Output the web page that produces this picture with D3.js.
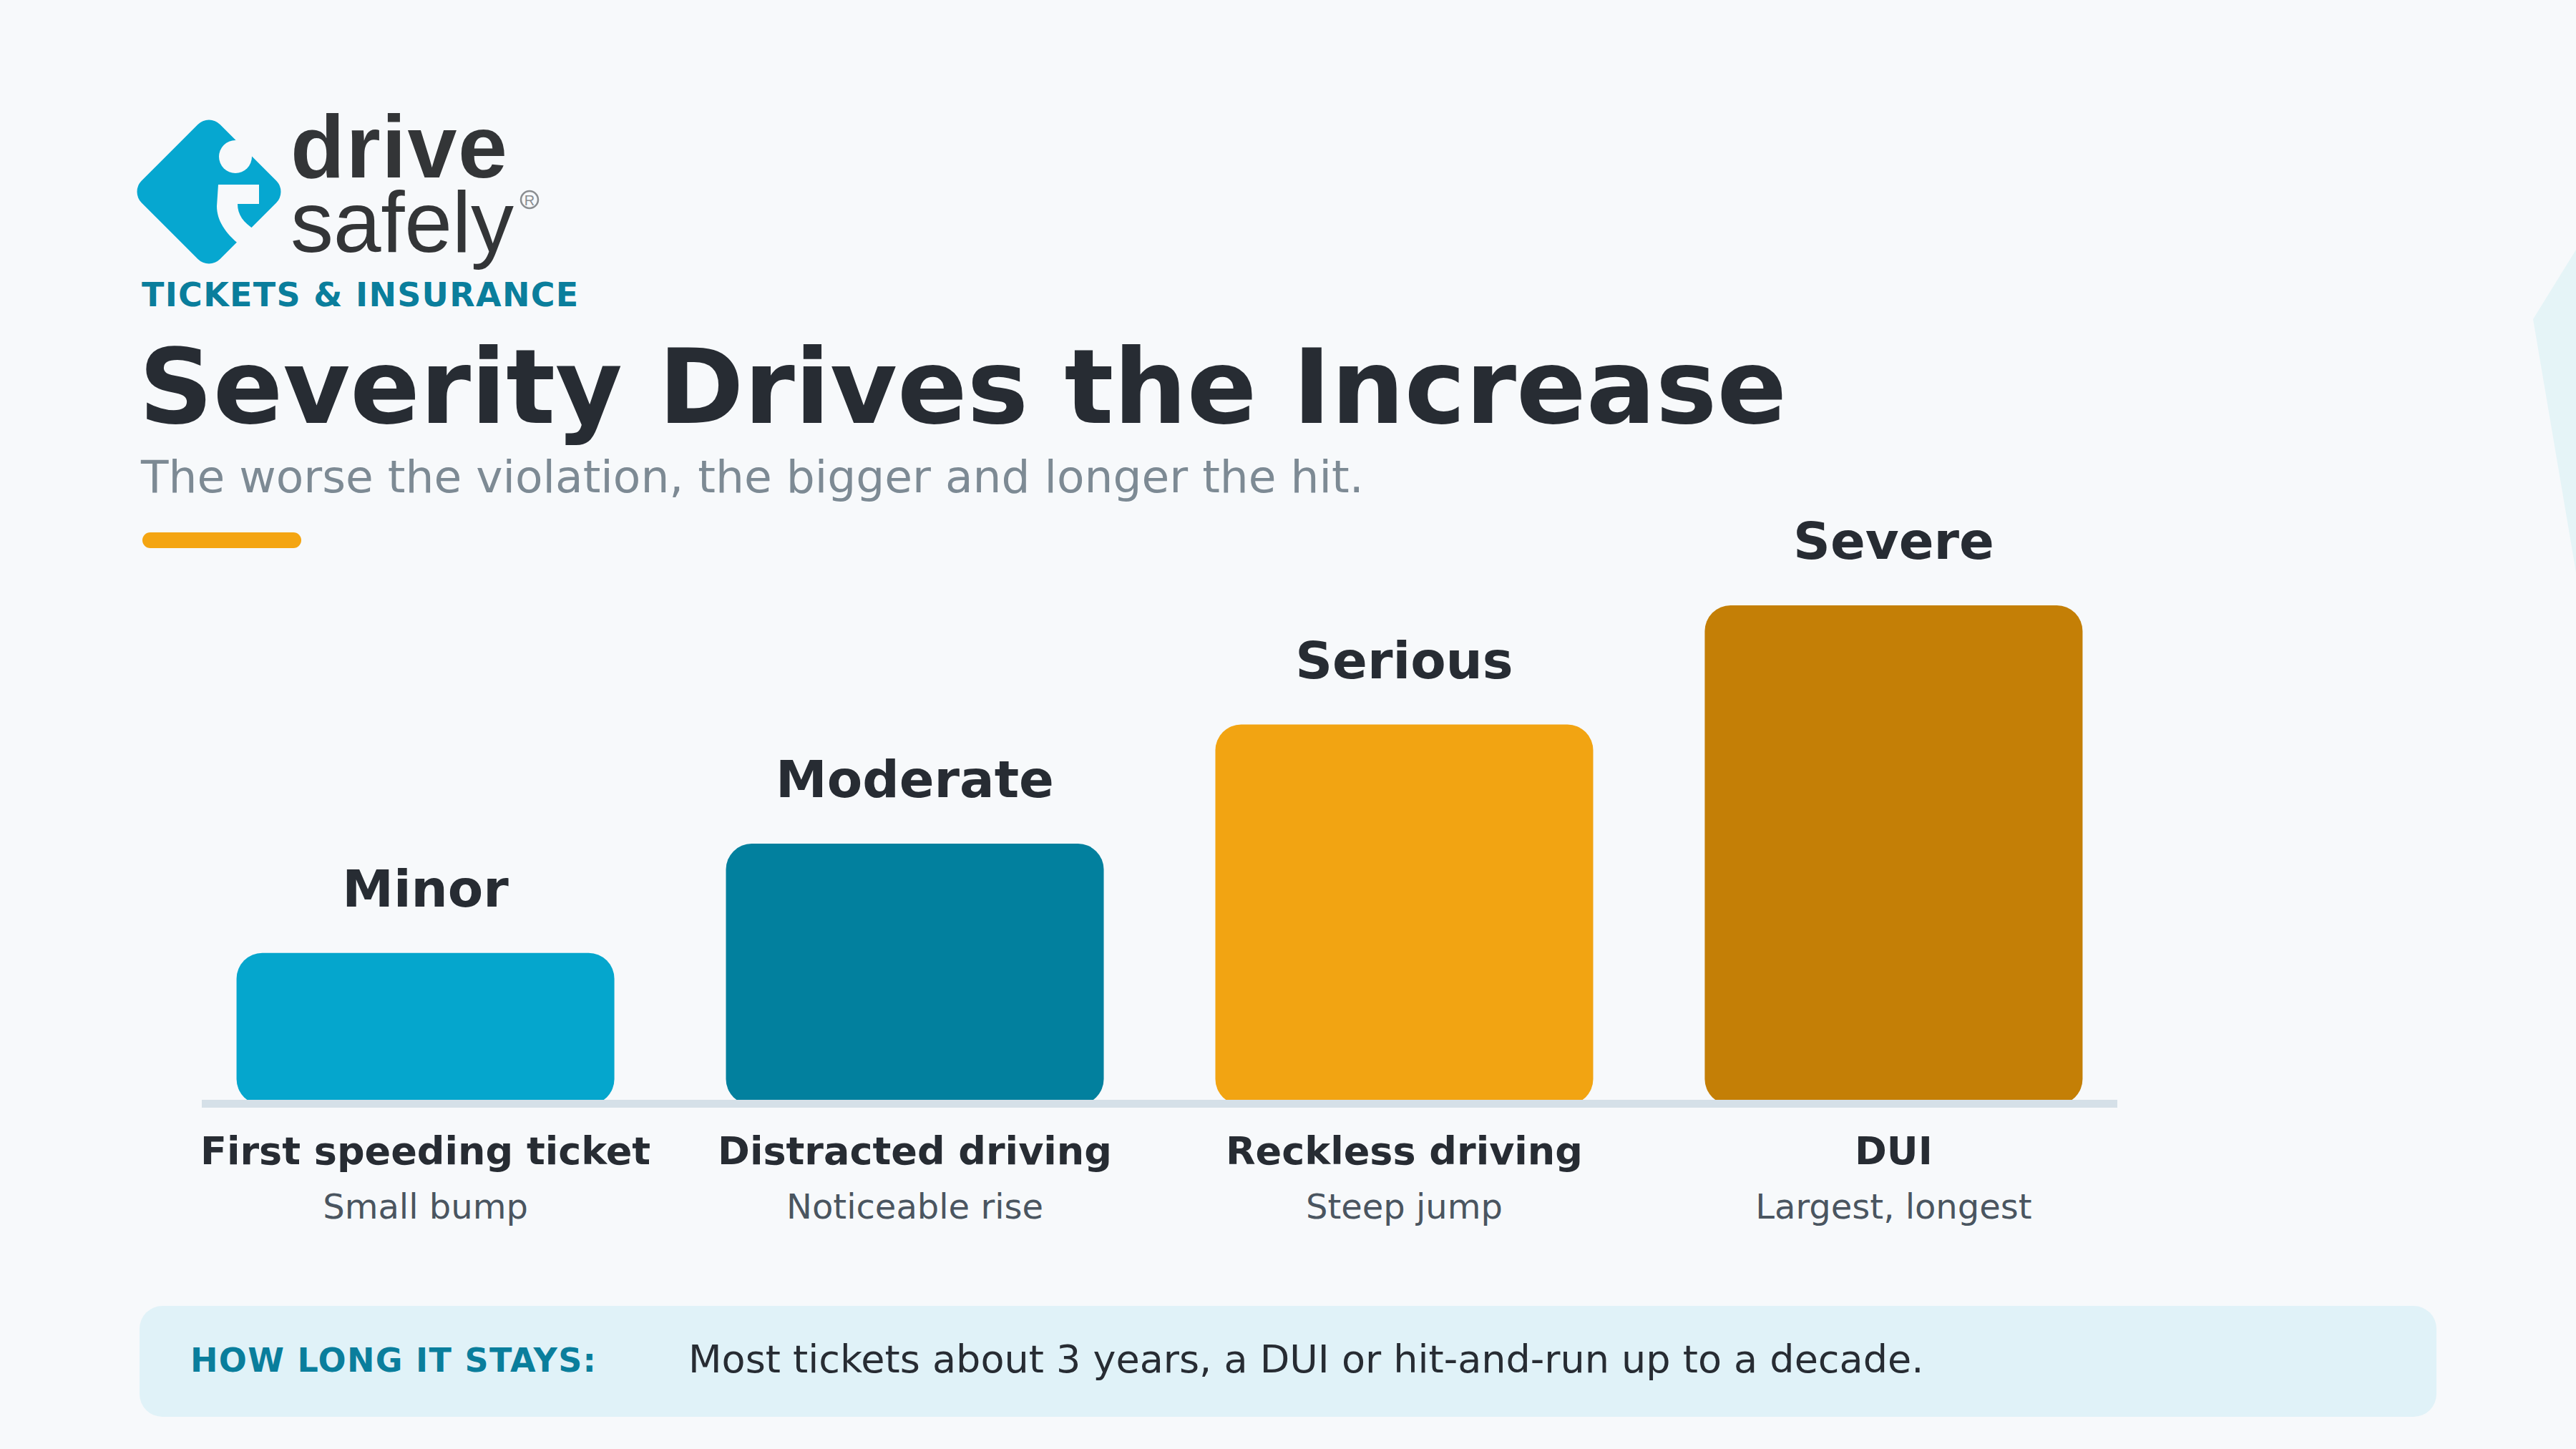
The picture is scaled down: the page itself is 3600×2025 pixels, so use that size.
<!DOCTYPE html>
<html>
<head>
<meta charset="utf-8">
<script src="https://cdn.jsdelivr.net/npm/d3@7"></script>
<style>
  html, body { margin: 0; padding: 0; background: #F7F9FB; }
  svg { display: block; }
</style>
</head>
<body>
<div id="chart"></div>
<script>
// chart data
const severity = ["Minor", "Moderate", "Serious", "Severe"];
const violations = ["First speeding ticket", "Distracted driving", "Reckless driving", "DUI"];
const notes = ["Small bump", "Noticeable rise", "Steep jump", "Largest, longest"];
const impact = [30, 52, 76, 100]; // relative size of the premium hit
const barColors = ["#05A6CD", "#02809E", "#F2A412", "#C47F06"];

const W = 3600, H = 2025;
const bg = "#F7F9FB";
const font = "'DejaVu Sans', sans-serif";

const svg = d3.select("#chart")
  .append("svg")
  .attr("width", W)
  .attr("height", H);

svg.append("rect").attr("width", W).attr("height", H).attr("fill", bg);

// faint shape at right edge
svg.append("polygon")
  .attr("points", "3540,446 3600,349 3600,800")
  .attr("fill", "#E5F4F7");

// logo
const logo = svg.append("g");
logo.append("rect")
  .attr("x", 292 - 77.5).attr("y", 268 - 77.5)
  .attr("width", 155).attr("height", 155)
  .attr("rx", 22)
  .attr("transform", "rotate(45,292,268)")
  .attr("fill", "#06A7D0");
logo.append("circle").attr("cx", 329).attr("cy", 219).attr("r", 23).attr("fill", bg);
logo.append("path")
  .attr("d", "M305,258 H362 V285 H332 C332,300 340,311 356,321 L385,330 L345,352 L335,342 C315,326 303,308 303,288 Z")
  .attr("fill", bg);

logo.append("text")
  .attr("x", 406).attr("y", 248)
  .attr("font-family", "'Liberation Sans', Arial, sans-serif")
  .attr("font-weight", "bold")
  .attr("font-size", 124)
  .attr("fill", "#333537")
  .attr("textLength", 303)
  .text("drive");
logo.append("text")
  .attr("x", 406).attr("y", 352)
  .attr("font-family", "'Liberation Sans', Arial, sans-serif")
  .attr("font-size", 120)
  .attr("fill", "#333537")
  .attr("textLength", 312)
  .text("safely");
logo.append("circle").attr("cx", 740).attr("cy", 279).attr("r", 12)
  .attr("fill", "none").attr("stroke", "#8A8D90").attr("stroke-width", 2.5);
logo.append("text")
  .attr("x", 740).attr("y", 287)
  .attr("text-anchor", "middle")
  .attr("font-family", "'Liberation Sans', Arial, sans-serif")
  .attr("font-size", 20)
  .attr("fill", "#8A8D90")
  .text("R");

svg.append("text")
  .attr("x", 198).attr("y", 428)
  .attr("font-family", font)
  .attr("font-weight", "bold")
  .attr("font-size", 46)
  .attr("letter-spacing", 1.3)
  .attr("fill", "#0A7E9C")
  .text("TICKETS & INSURANCE");

// title block
svg.append("text")
  .attr("x", 194).attr("y", 591)
  .attr("font-family", font)
  .attr("font-weight", "bold")
  .attr("font-size", 144)
  .attr("fill", "#272C33")
  .text("Severity Drives the Increase");

svg.append("text")
  .attr("x", 197).attr("y", 688)
  .attr("font-family", font)
  .attr("font-size", 63)
  .attr("fill", "#7D8A94")
  .text("The worse the violation, the bigger and longer the hit.");

svg.append("rect")
  .attr("x", 199).attr("y", 744)
  .attr("width", 222).attr("height", 22)
  .attr("rx", 11)
  .attr("fill", "#F4A512");

// scales
const baseY = 1540;
const x = d3.scaleBand(d3.range(severity.length), [282, 2959])
  .paddingInner(0.228)
  .paddingOuter(0.071);
const y = d3.scaleLinear([0, 100], [baseY, 846]);

// bars
svg.selectAll(".bar")
  .data(impact)
  .enter()
  .append("rect")
  .attr("class", "bar")
  .attr("x", (d, i) => x(i))
  .attr("y", d => y(d))
  .attr("width", x.bandwidth())
  .attr("height", d => baseY + 4 - y(d))
  .attr("rx", 36)
  .attr("fill", (d, i) => barColors[i]);

// baseline
svg.append("rect")
  .attr("x", 282).attr("y", 1537)
  .attr("width", 2959 - 282).attr("height", 11)
  .attr("fill", "#D5E0E8");

// severity labels above bars
svg.selectAll(".sev")
  .data(impact)
  .enter()
  .append("text")
  .attr("class", "sev")
  .attr("x", (d, i) => x(i) + x.bandwidth() / 2)
  .attr("y", d => y(d) - 65)
  .attr("text-anchor", "middle")
  .attr("font-family", font)
  .attr("font-weight", "bold")
  .attr("font-size", 72)
  .attr("fill", "#272C33")
  .text((d, i) => severity[i]);

// category labels below
svg.selectAll(".cat")
  .data(violations)
  .enter()
  .append("text")
  .attr("class", "cat")
  .attr("x", (d, i) => x(i) + x.bandwidth() / 2)
  .attr("y", 1627)
  .attr("text-anchor", "middle")
  .attr("font-family", font)
  .attr("font-weight", "bold")
  .attr("font-size", 54)
  .attr("fill", "#272C33")
  .text(d => d);

svg.selectAll(".note")
  .data(notes)
  .enter()
  .append("text")
  .attr("class", "note")
  .attr("x", (d, i) => x(i) + x.bandwidth() / 2)
  .attr("y", 1703)
  .attr("text-anchor", "middle")
  .attr("font-family", font)
  .attr("font-size", 48)
  .attr("fill", "#4A5560")
  .text(d => d);

// footer box
svg.append("rect")
  .attr("x", 195).attr("y", 1825)
  .attr("width", 3210).attr("height", 155)
  .attr("rx", 32)
  .attr("fill", "#E0F2F8");

svg.append("text")
  .attr("x", 266).attr("y", 1917)
  .attr("font-family", font)
  .attr("font-weight", "bold")
  .attr("font-size", 46)
  .attr("letter-spacing", 1.3)
  .attr("fill", "#0A7E9C")
  .text("HOW LONG IT STAYS:");

svg.append("text")
  .attr("x", 962).attr("y", 1918)
  .attr("font-family", font)
  .attr("font-size", 54)
  .attr("fill", "#272C33")
  .text("Most tickets about 3 years, a DUI or hit-and-run up to a decade.");
</script>
</body>
</html>
